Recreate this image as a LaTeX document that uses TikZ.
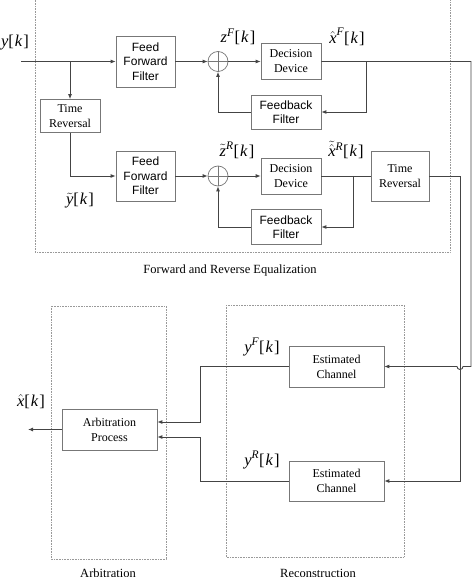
\documentclass[tikz,border=0pt]{standalone}
\usepackage{amsmath}
\usepackage{fontspec}
\setmainfont{Liberation Serif}
\setsansfont{Liberation Sans}
\usetikzlibrary{arrows.meta}
\definecolor{boxc}{HTML}{777777}
\definecolor{linec}{HTML}{444444}
\definecolor{dotc}{HTML}{999999}
\newcommand{\kidx}{\text{[\kern1pt\textit{k}\kern1pt]}}
\newcommand{\vi}[1]{\textit{#1}}
\tikzset{
  blk/.style={draw=boxc, line width=0.7pt, fill=white, align=center, inner sep=0pt},
  sfblk/.style={blk, font=\sffamily\fontsize{12}{14.5}\selectfont},
  rmblk/.style={blk, font=\rmfamily\fontsize{12}{15}\selectfont},
  conn/.style={draw=linec, line width=0.9pt},
  arr/.style={conn, -{Latex[length=5pt,width=4pt]}},
  dotbox/.style={draw=dotc, line width=0.6pt, densely dotted},
  sumc/.style={circle, draw=boxc, line width=0.7pt, minimum size=20pt, inner sep=0pt},
  mlab/.style={font=\rmfamily\fontsize{16.5}{18}\selectfont, inner sep=0pt},
  captxt/.style={font=\rmfamily\fontsize{12.5}{14}\selectfont, inner sep=0pt}
}
\begin{document}
\begin{tikzpicture}[x=1pt,y=-1pt]
\useasboundingbox (0,0) rectangle (474,577);
% dotted frames
\draw[dotbox] (35,-2) rectangle (450,252);
\draw[dotbox] (51,306) rectangle (166,559);
\draw[dotbox] (226,305) rectangle (404,557);
% blocks
\node[sfblk, minimum width=59pt, minimum height=51pt] (fff1) at (145.5,61.5) {Feed\\Forward\\Filter};
\node[sumc] (sum1) at (218,61.5) {};
\node[rmblk, minimum width=60pt, minimum height=36pt] (dd1) at (291,61.5) {Decision\\Device};
\node[sfblk, minimum width=70pt, minimum height=34pt] (fb1) at (286,112) {Feedback\\Filter};
\node[rmblk, minimum width=60pt, minimum height=33pt] (tr1) at (70,116) {Time\\Reversal};
\node[sfblk, minimum width=59pt, minimum height=50pt] (fff2) at (145.5,176) {Feed\\Forward\\Filter};
\node[sumc] (sum2) at (218,176) {};
\node[rmblk, minimum width=60pt, minimum height=36pt] (dd2) at (291,176) {Decision\\Device};
\node[rmblk, minimum width=58pt, minimum height=50pt] (tr2) at (400,176) {Time\\Reversal};
\node[sfblk, minimum width=70pt, minimum height=35pt] (fb2) at (286,227) {Feedback\\Filter};
\node[rmblk, minimum width=95pt, minimum height=41pt] (ec1) at (336.5,366.5) {Estimated\\Channel};
\node[rmblk, minimum width=95pt, minimum height=40pt] (ec2) at (336.5,481) {Estimated\\Channel};
\node[rmblk, minimum width=95pt, minimum height=41pt] (ap) at (109.5,429.5) {Arbitration\\Process};
% plus signs
\foreach \s in {sum1,sum2}{
  \draw[boxc, line width=0.7pt] (\s.north) -- (\s.south) (\s.west) -- (\s.east);
}
% coordinates
\coordinate (in) at (21,61.5);
\coordinate (br0) at (70,61.5);
\coordinate (br1) at (366,61.5);
\coordinate (c1) at (471,61.5);
\coordinate (c1b) at (471,366.5);
\coordinate (hopR) at (463,366.5);
\coordinate (br2) at (353,176);
\coordinate (c2) at (460,176);
\coordinate (c2b) at (460,481);
\coordinate (l1) at (200,366.5);
\coordinate (l2) at (200,481);
\coordinate (a1) at ([yshift=7.5pt]ap.east);
\coordinate (a2) at ([yshift=-7.5pt]ap.east);
\coordinate (out) at (28,429.5);
% top row
\draw[arr] (in) -- (fff1.west);
\draw[arr] (br0) -- (tr1.north);
\draw[arr] (fff1.east) -- (sum1.west);
\draw[arr] (sum1.east) -- (dd1.west);
\draw[arr] (dd1.east) -- (c1) -- (c1b) -- (hopR) arc[start angle=0, end angle=-180, radius=3pt] -- (ec1.east);
\draw[arr] (br1) |- (fb1.east);
\draw[arr] (fb1.west) -| (sum1.south);
% bottom row
\draw[arr] (tr1.south) |- (fff2.west);
\draw[arr] (fff2.east) -- (sum2.west);
\draw[arr] (sum2.east) -- (dd2.west);
\draw[conn] (dd2.east) -- (tr2.west);
\draw[arr] (br2) |- (fb2.east);
\draw[arr] (fb2.west) -| (sum2.south);
\draw[arr] (tr2.east) -- (c2) -- (c2b) -- (ec2.east);
% reconstruction to arbitration
\draw[arr] (ec1.west) -- (l1) |- (a1);
\draw[arr] (ec2.west) -- (l2) |- (a2);
\draw[arr] (ap.west) -- (out);
% labels
\node[mlab] (ly) at (15,43) {$\vi{y}\kidx$};
\node[mlab] (lzf) at (238,37) {$\vi{z}^{\vi{F}}\kidx$};
\node[mlab] (lxf) at (347,37) {$\hat{\vi{x}}^{\vi{F}}\kidx$};
\node[mlab] (lzr) at (237,150) {$\tilde{\vi{z}}^{\vi{R}}\kidx$};
\node[mlab] (lxr) at (346,150) {$\tilde{\hat{\vi{x}}}^{\vi{R}}\kidx$};
\node[mlab] (lyt) at (80,201) {$\tilde{\vi{y}}\kidx$};
\node[mlab] (lx) at (31,402) {$\hat{\vi{x}}\kidx$};
\node[mlab] (lyf) at (262,347) {$\vi{y}^{\vi{F}}\kidx$};
\node[mlab] (lyr) at (262,460) {$\vi{y}^{\vi{R}}\kidx$};
\node[captxt] (cap1) at (230,270) {Forward and Reverse Equalization};
\node[captxt] (cap2) at (108,573) {Arbitration};
\node[captxt] (cap3) at (318,573) {Reconstruction};
\end{tikzpicture}
\end{document}
